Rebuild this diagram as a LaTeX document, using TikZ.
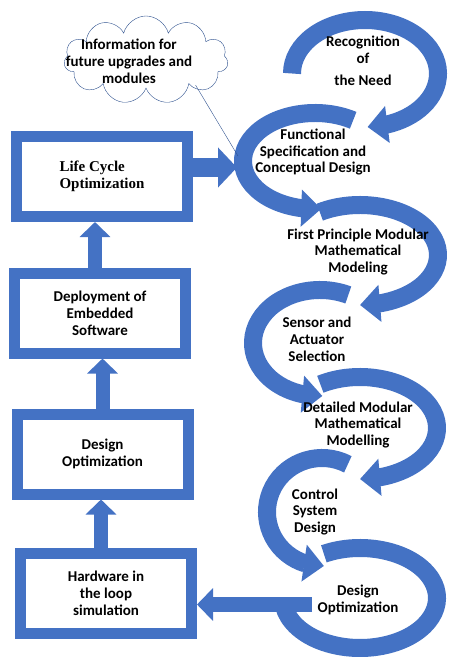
\documentclass[tikz,border=0pt]{standalone}
\usepackage{fontspec}
\usetikzlibrary{arrows.meta,bending,shapes.symbols}
\newfontfamily\calibri{Carlito}
\newfontfamily\timesnr{Liberation Serif}
\definecolor{ablue}{RGB}{68,114,196}
\definecolor{dblue}{RGB}{47,82,143}
\tikzset{
  stage/.style={draw=ablue,line width=11pt,minimum width=171pt,minimum height=80pt,
    align=center,font=\calibri\bfseries\fontsize{15}{16.8}\selectfont},
  phaselabel/.style={align=center,font=\calibri\bfseries\fontsize{15}{16.8}\selectfont},
  blockarrow/.style={draw=ablue,line width=14pt,-{Triangle[width=30pt,length=15pt]}},
  cyclearc/.style={draw=ablue,line width=18pt},
  cyclearrow/.style={cyclearc,-{Triangle[width=36pt,length=20pt]}}
}
\begin{document}
\begin{tikzpicture}[x=1pt,y=-1pt]
    \useasboundingbox (0,0) rectangle (474,663);

    \foreach \cx/\cy/\rx/\ry/\a/\b in {365/73.5/73/53.5/180/448, 315/161/72/48/-58/-275,
        360/255/78/50/-121/90, 320/343/67/53/-65/-272, 360/428/77/51/-121/90,
        322/512/55/54/-62/-272}
        \path[draw,cyclearrow] (\cx,\cy) ++(\a:{\rx} and {\ry})
            arc[start angle=\a,end angle=\b,x radius=\rx,y radius=\ry];
    \path[draw,cyclearc,preaction={draw=white,line width=22pt}] (360,598) ++(-118:77 and 50)
        arc[start angle=-118,end angle=170,x radius=77,y radius=50];

    \node[phaselabel] (need) at (363,61) {Recognition\\of\\[5pt]the Need};
    \node[phaselabel] (funcspec) at (313,152) {Functional\\Specification and\\Conceptual Design};
    \node[phaselabel] (firstprin) at (358,252) {First Principle Modular\\Mathematical\\Modeling};
    \node[phaselabel] (sensor) at (317,339) {Sensor and\\Actuator\\Selection};
    \node[phaselabel] (detailed) at (358,425) {Detailed Modular\\Mathematical\\Modelling};
    \node[phaselabel] (control) at (315,512) {Control\\System\\Design};
    \node[phaselabel] (designopt) at (358,600) {Design\\Optimization};

    \node[stage,align=left,font=\timesnr\bfseries\fontsize{15}{17}\selectfont] (lco) at (102,176.5) {Life Cycle\\Optimization};
    \node[stage] (deploy) at (100,313) {Deployment of\\Embedded\\Software};
    \node[stage] (dopt) at (102.5,454) {Design\\Optimization};
    \node[stage] (hil) at (106,593.5) {Hardware in\\the loop\\simulation};

    \path[draw,blockarrow] (deploy.north) ++(-5,0) coordinate (up1) -- (up1 |- lco.south);
    \path[draw,blockarrow] (dopt.north) -- (dopt.north |- deploy.south);
    \path[draw,blockarrow] (hil.north) ++(-5,0) coordinate (up3) -- (up3 |- dopt.south);

    \coordinate (fsin) at (237,167.5);
    \path[draw,blockarrow,line width=19pt,-{Triangle[width=39pt,length=19pt]}] (lco.east |- fsin) -- (fsin);
    \coordinate (dotail) at (312,604.5);
    \path[draw,blockarrow,line width=15pt,-{Triangle[width=32pt,length=16pt]}] (dotail) -- (dotail -| hil.east);

    \node[cloud,draw=dblue,fill=white,cloud puffs=11,aspect=2.1,minimum width=164pt,
        minimum height=88pt,inner sep=0pt] (infocloud) at (146,60) {};
    \node[phaselabel] (info) at (129,61) {Information for\\future upgrades and\\modules};
    \coordinate (notefoot) at (238,156);
    \path[draw=dblue,thin] (info.-20) -- (notefoot);

\end{tikzpicture}
\end{document}
